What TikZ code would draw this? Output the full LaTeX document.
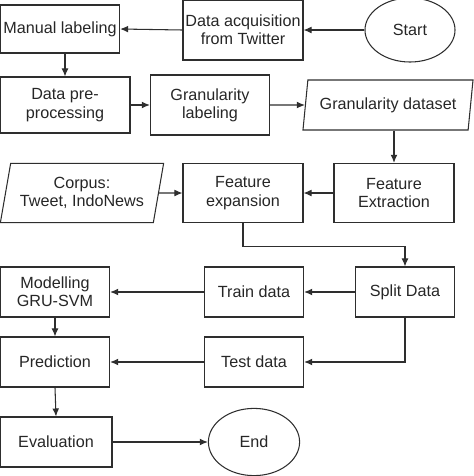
\documentclass[tikz,border=0pt]{standalone}
\usepackage{fontspec}
\setmainfont{Liberation Sans}
\usetikzlibrary{arrows.meta}
\usetikzlibrary{shapes.geometric}
\definecolor{linegray}{HTML}{2E2E2E}

\tikzset{
  process/.style={draw=linegray, line width=0.75pt, rectangle, align=center, inner sep=0pt, text=black!85},
  dataio/.style={draw=linegray, line width=0.75pt, trapezium, trapezium left angle=72, trapezium right angle=108,
    trapezium stretches body, align=center, inner sep=0pt, text=black!85},
  terminal/.style={draw=linegray, line width=0.75pt, ellipse, align=center, inner sep=0pt, text=black!85},
  flow/.style={draw=linegray, line width=0.75pt, -{Latex[length=2mm,width=1.7mm]}}
}

\begin{document}
\begin{tikzpicture}[x=0.025cm, y=-0.025cm, font=\fontsize{11.5}{13}\selectfont]
\useasboundingbox (0,0) rectangle (474,476);

% top row
\node [terminal, minimum width=2.25cm, minimum height=1.6cm] (start) at (410,30) {Start};
\node [process, minimum width=3cm, minimum height=1.5cm] (acq) at (243,30) {Data acquisition\\from Twitter};
\node [process, minimum width=2.98cm, minimum height=1.2cm] (manual) at (60,29) {Manual labeling};

% second row
\node [process, minimum width=3.25cm, minimum height=1.4cm] (prep) at (65,105) {Data pre-\\processing};
\node [process, minimum width=2.98cm, minimum height=1.5cm] (granlab) at (210,105) {Granularity\\labeling};
\node [dataio, minimum width=4.25cm, minimum height=1.25cm] (granset) at (388,105) {Granularity dataset};

% third row
\node [dataio, minimum width=4.08cm, minimum height=1.48cm] (corpus) at (82,193) {Corpus:\\Tweet, IndoNews};
\node [process, minimum width=3cm, minimum height=1.48cm] (fexp) at (243,193) {Feature\\expansion};
\node [process, minimum width=3cm, minimum height=1.48cm] (fext) at (394,193) {Feature\\Extraction};

% lower part
\node [process, minimum width=2.73cm, minimum height=1.25cm] (model) at (55,292) {Modelling\\GRU-SVM};
\node [process, minimum width=2.48cm, minimum height=1.25cm] (train) at (254,292) {Train data};
\node [process, minimum width=2.48cm, minimum height=1.25cm] (split) at (405,292) {Split Data};
\node [process, minimum width=2.73cm, minimum height=1.25cm] (pred) at (55,362) {Prediction};
\node [process, minimum width=2.48cm, minimum height=1.25cm] (test) at (254,362) {Test data};
\node [process, minimum width=2.8cm, minimum height=1.25cm] (eval) at (56,442) {Evaluation};
\node [terminal, minimum width=2.28cm, minimum height=1.68cm] (end) at (254,442) {End};

% connectors
\draw [flow] (start.west) -- (acq.east);
\draw [flow] (acq.west) -- (manual.east);
\draw [flow] (prep.north |- manual.south) -- (prep.north);
\draw [flow] (prep.east) -- (granlab.west);
\draw [flow] (granlab.east) -- (granset.west);
\draw [flow] (fext.north |- granset.south) -- (fext.north);
\draw [flow] (fext.west) -- (fexp.east);
\draw [flow] (corpus.east) -- (fexp.west);
\draw [flow] (fexp.south) -- ++(0,23) -| (split.north);
\draw [flow] (split.west) -- (train.east);
\draw [flow] (train.west) -- (model.east);
\draw [flow] (model.south) -- (pred.north);
\draw [flow] (split.south) |- (test.east);
\draw [flow] (test.west) -- (pred.east);
\draw [flow] (pred.south) -- (eval.north);
\draw [flow] (eval.east) -- (end.west);
\end{tikzpicture}
\end{document}
